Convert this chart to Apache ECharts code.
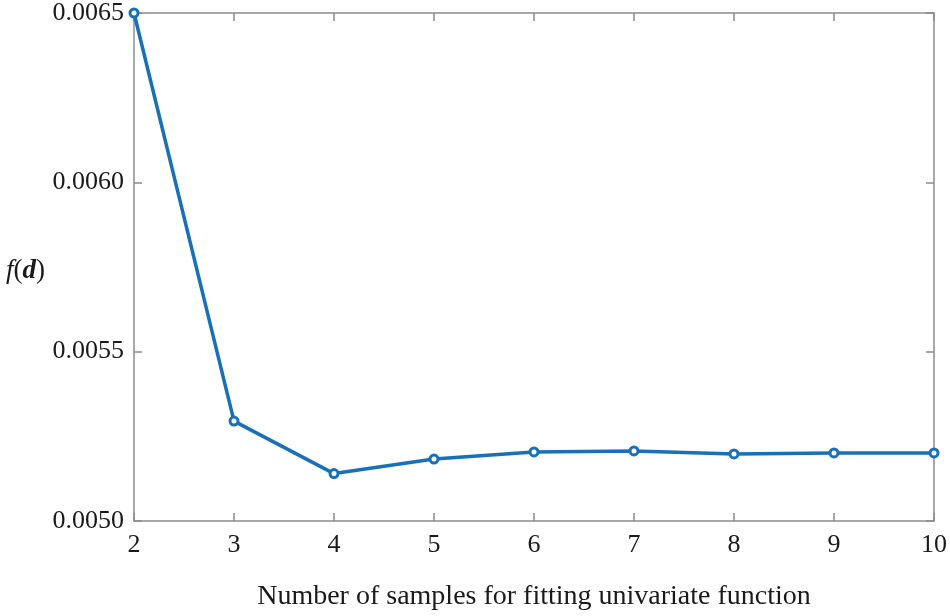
<!DOCTYPE html>
<html lang="en">

<head>
  <meta charset="UTF-8">
  <title>f(d) vs number of samples</title>
  <style>
    html, body { margin: 0; padding: 0; background: #fff; }
    #chart { width: 950px; height: 616px; }
  </style>
</head>

<body>
  <div id="chart"></div>
  <script src="https://cdn.jsdelivr.net/npm/echarts@6/dist/echarts.min.js"></script>
  <script>
    // 数据
    var samples = [2, 3, 4, 5, 6, 7, 8, 9, 10];
    var fValues = [0.00650, 0.005295, 0.005140, 0.005183, 0.005204, 0.005207, 0.005198, 0.005201, 0.005201];
    var yTicks = [0.0050, 0.0055, 0.0060, 0.0065];

    var serif = "'Liberation Serif', 'DejaVu Serif', serif";
    var axisGray = '#8c8c8c';
    var lineBlue = '#1770b8';
    var textColor = '#1a1a1a';

    var chart = echarts.init(document.getElementById('chart'));

    var points = samples.map(function (x, i) { return [x, fValues[i]]; });

    var option = {
      animation: false,
      grid: {
        left: 134,
        right: 13,
        top: 9,
        bottom: 94,
        show: false
      },
      xAxis: [{
        type: 'value',
        min: 2,
        max: 10,
        interval: 1,
        position: 'bottom',
        name: 'Number of samples for fitting univariate function',
        nameLocation: 'middle',
        nameGap: 62,
        nameTextStyle: { fontFamily: serif, fontSize: 28, color: textColor },
        axisLine: { show: true, lineStyle: { color: axisGray, width: 1.5 } },
        axisTick: { show: true, inside: true, length: 8, lineStyle: { color: axisGray, width: 1.5 } },
        axisLabel: { fontFamily: serif, fontSize: 26, color: textColor, margin: 11 },
        splitLine: { show: false }
      }, {
        type: 'value',
        min: 2,
        max: 10,
        interval: 1,
        position: 'top',
        axisLine: { show: true, lineStyle: { color: axisGray, width: 1.5 } },
        axisTick: { show: true, inside: true, length: 8, lineStyle: { color: axisGray, width: 1.5 } },
        axisLabel: { show: false },
        splitLine: { show: false }
      }],
      yAxis: [{
        type: 'value',
        min: yTicks[0],
        max: yTicks[yTicks.length - 1],
        interval: 0.0005,
        position: 'left',
        name: '{i|f}({b|d})',
        nameLocation: 'middle',
        nameRotate: 0,
        nameGap: 89,
        nameTextStyle: {
          fontFamily: serif, fontSize: 27, color: textColor, align: 'right', padding: [8, 0, 0, 0],
          rich: {
            i: { fontFamily: serif, fontSize: 27, fontStyle: 'italic', color: textColor },
            b: { fontFamily: serif, fontSize: 27, fontStyle: 'italic', fontWeight: 'bold', color: textColor }
          }
        },
        axisLine: { show: true, lineStyle: { color: axisGray, width: 1.5 } },
        axisTick: { show: true, inside: true, length: 8, lineStyle: { color: axisGray, width: 1.5 } },
        axisLabel: {
          fontFamily: serif, fontSize: 26, color: textColor, margin: 10,
          formatter: function (v) { return v.toFixed(4); }
        },
        splitLine: { show: false }
      }, {
        type: 'value',
        min: yTicks[0],
        max: yTicks[yTicks.length - 1],
        interval: 0.0005,
        position: 'right',
        axisLine: { show: true, lineStyle: { color: axisGray, width: 1.5 } },
        axisTick: { show: true, inside: true, length: 8, lineStyle: { color: axisGray, width: 1.5 } },
        axisLabel: { show: false },
        splitLine: { show: false }
      }],
      series: [{
        type: 'line',
        data: points,
        xAxisIndex: 0,
        yAxisIndex: 0,
        symbol: 'circle',
        symbolSize: 8,
        showAllSymbol: true,
        clip: false,
        lineStyle: { color: lineBlue, width: 3.5 },
        itemStyle: { color: '#fff', borderColor: lineBlue, borderWidth: 3 },
        z: 5
      }]
    };
    chart.setOption(option);
  </script>
</body>

</html>
